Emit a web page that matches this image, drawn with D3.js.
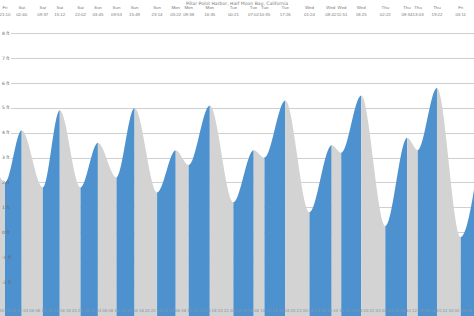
<!DOCTYPE html>
<html lang="en">
<head>
<meta charset="UTF-8">
<title>Pillar Point Harbor tides</title>
<script src="https://d3js.org/d3.v7.min.js"></script>
<style>
  body { margin: 0; background: #fff; }
  svg { display: block; font-family: "DejaVu Sans", sans-serif; }
</style>
</head>
<body>
<svg id="chart" width="474" height="316"></svg>
<script>
// turning points of the tide (first and last lie just outside the window)
const title = "Pillar Point Harbor, Half Moon Bay, California";
const dayNames = ["Fri", "Sat", "Sun", "Mon", "Tue", "Wed", "Thu", "Fri"];
const tideDay = [0, 0, 1, 1, 1, 1, 2, 2, 2, 2, 3, 3, 3, 4, 4, 4, 4, 5, 5, 5, 5, 6, 6, 6, 6, 7, 7];
const tideTime = ["14:40", "21:10", "02:40", "09:37", "15:12", "22:02", "03:45", "09:53", "15:49", "23:14",
                  "05:22", "09:38", "16:35", "00:21", "07:02", "10:35", "17:26", "01:24", "08:42", "11:51",
                  "18:25", "02:22", "09:34", "13:03", "19:22", "03:11", "10:10"];
const tideHeight = [4.6, 2.0, 4.1, 1.8, 4.9, 1.8, 3.6, 2.2, 5.0, 1.6,
                    3.3, 2.7, 5.1, 1.2, 3.3, 3.0, 5.3, 0.8, 3.5, 3.2,
                    5.5, 0.25, 3.8, 3.3, 5.8, -0.2, 3.9];
const heightTicks = [8, 7, 6, 5, 4, 3, 2, 1, 0, -1, -2];

const W = 474, H = 316;
const svg = d3.select("#chart");

// hours counted from Friday 00:00
const tides = tideTime.map((s, i) => {
  const [hh, mm] = s.split(":").map(Number);
  return { day: dayNames[tideDay[i]], time: s, t: tideDay[i] * 24 + hh + mm / 60, h: tideHeight[i] };
});

const x = d3.scaleLinear().domain([19.53, 175.55]).range([0, W]);
const y = d3.scaleLinear().domain([-2, 8]).range([281.9, 33.3]);

// grid
svg.append("g")
  .selectAll("line")
  .data(heightTicks)
  .join("line")
  .attr("x1", 11).attr("x2", W)
  .attr("y1", d => Math.round(y(d)) + 0.5)
  .attr("y2", d => Math.round(y(d)) + 0.5)
  .attr("stroke", "#cfcfcf")
  .attr("stroke-width", 1);

// tide area, coloured rising / falling
const area = d3.area()
  .x(d => x(d.t))
  .y0(H)
  .y1(d => y(d.h))
  .curve(d3.curveMonotoneX);

svg.append("clipPath").attr("id", "tide")
  .append("path").attr("d", area(tides));

svg.append("g")
  .attr("clip-path", "url(#tide)")
  .selectAll("rect")
  .data(d3.pairs(tides))
  .join("rect")
  .attr("x", d => x(d[0].t))
  .attr("y", 0)
  .attr("width", d => x(d[1].t) - x(d[0].t))
  .attr("height", H)
  .attr("fill", d => d[1].h > d[0].h ? "#4d92cf" : "#d3d3d3");

// height labels
svg.append("g")
  .selectAll("text")
  .data(heightTicks)
  .join("text")
  .attr("x", 2)
  .attr("y", d => y(d) + 1.6)
  .attr("font-size", 4.5)
  .attr("fill", "#666")
  .text(d => d + " ft");

// title and turning-point labels
svg.append("text")
  .attr("x", W / 2).attr("y", 4.5)
  .attr("text-anchor", "middle")
  .attr("font-size", 4.6)
  .attr("fill", "#777")
  .text(title);

const shown = tides.filter(d => x(d.t) > -8 && x(d.t) < W - 4)
  .map(d => ({ ...d, lx: x(d.t) }));
// close pairs (e.g. Wed 08:42 / 11:51) are nudged apart a little
const gap = 11.2;
for (let i = 1; i < shown.length; i++) {
  const d = shown[i].lx - shown[i - 1].lx;
  if (d < gap) {
    shown[i - 1].lx -= (gap - d) / 2;
    shown[i].lx += (gap - d) / 2;
  }
}
const lab = svg.append("g")
  .attr("font-family", "'Liberation Sans', sans-serif")
  .attr("font-size", 4.4)
  .attr("fill", "#7a7a7a")
  .attr("text-anchor", "middle");
lab.selectAll(".day")
  .data(shown)
  .join("text")
  .attr("class", "day")
  .attr("x", d => d.lx).attr("y", 9)
  .text(d => d.day);
lab.selectAll(".time")
  .data(shown)
  .join("text")
  .attr("class", "time")
  .attr("x", d => d.lx).attr("y", 15.5)
  .text(d => d.time);

// hour labels along the bottom
const hours = d3.range(20, 176, 2);
svg.append("g")
  .attr("font-size", 4)
  .attr("fill", "#8a96a3")
  .attr("text-anchor", "middle")
  .selectAll("text")
  .data(hours)
  .join("text")
  .attr("x", d => x(d))
  .attr("y", 312)
  .text(d => String(d % 24).padStart(2, "0"));
</script>
</body>
</html>
